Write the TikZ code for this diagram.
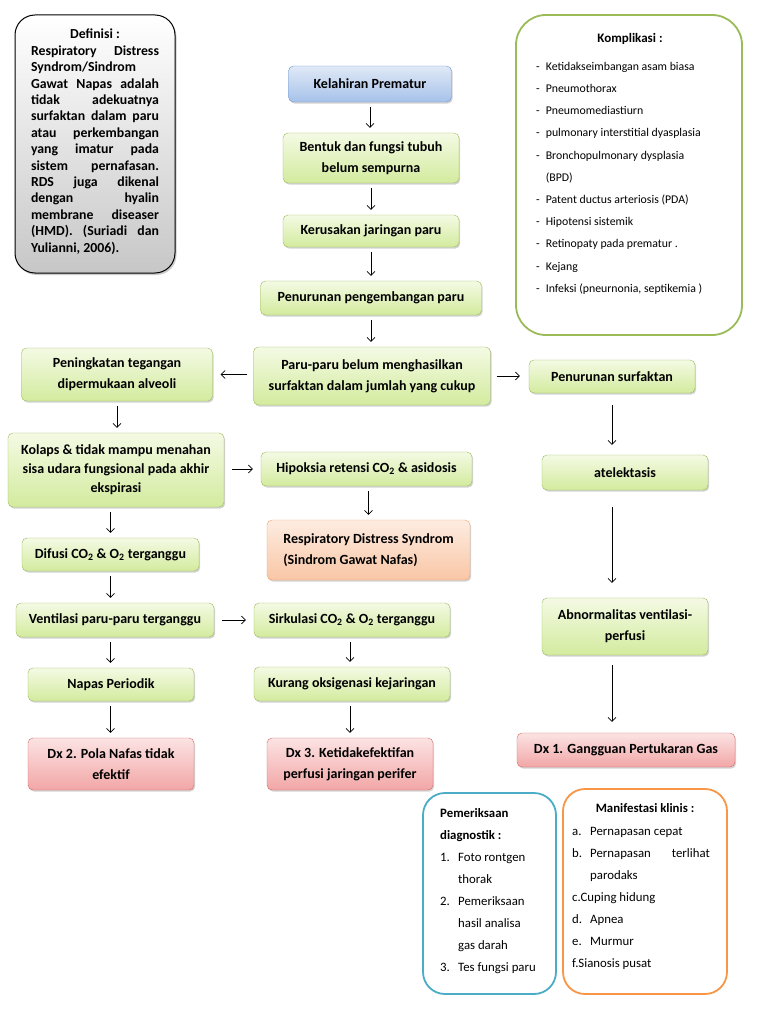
\documentclass[tikz,border=0pt]{standalone}
\usepackage{fontspec}
\setmainfont{Carlito}
\usetikzlibrary{positioning,shadows,arrows.meta}
\definecolor{greenline}{HTML}{9BBB59}
\definecolor{greentop}{HTML}{F4FAE4}
\definecolor{greenbot}{HTML}{D3EB9E}
\definecolor{blueline}{HTML}{6F96CF}
\definecolor{bluetop}{HTML}{E0E9F6}
\definecolor{bluebot}{HTML}{A6C2EA}
\definecolor{peachline}{HTML}{F2A36F}
\definecolor{peachtop}{HTML}{FDECE1}
\definecolor{peachbot}{HTML}{F9C6A5}
\definecolor{pinkline}{HTML}{D26B68}
\definecolor{pinktop}{HTML}{FCE3E3}
\definecolor{pinkbot}{HTML}{F2A6A6}
\definecolor{diagline}{HTML}{4BACC6}
\definecolor{manifline}{HTML}{F79646}
\begin{document}
\begin{tikzpicture}[x=1pt,y=-1pt,
  flow/.style={draw=greenline, rounded corners=5pt, top color=greentop, bottom color=greenbot,
    drop shadow={shadow xshift=1.2pt,shadow yshift=-1.6pt,opacity=0.35},
    font=\bfseries\fontsize{14}{21}\selectfont, align=center, inner sep=2pt},
  startbox/.style={flow, draw=blueline, top color=bluetop, bottom color=bluebot},
  rdsbox/.style={flow, draw=peachline, top color=peachtop, bottom color=peachbot},
  dxbox/.style={flow, draw=pinkline, top color=pinktop, bottom color=pinkbot},
  notebox/.style={draw, rounded corners=#1, line width=1.8pt, fill=white},
  listtext/.style={font=\fontsize{11.8}{22.2}\selectfont, align=left, inner sep=0pt},
  bigList/.style={font=\fontsize{12.8}{22}\selectfont, align=left, inner sep=0pt},
  arr/.style={-{Straight Barb[length=4pt,width=8pt]}, semithick, shorten >=5pt, shorten <=5pt},
]
\useasboundingbox (0,0) rectangle (768,1024);

% definisi
\node[draw, line width=1pt, rounded corners=20pt, top color=white, bottom color=black!22,
  drop shadow={shadow xshift=1.5pt,shadow yshift=-2pt,opacity=0.4},
  minimum width=160pt, minimum height=258pt] (definisi) at (95,144) {};
\node[font=\bfseries\fontsize{13.8}{16.4}\selectfont,
  text width=128pt, align=justify, inner sep=0pt, anchor=north] (defText) at (95,29)
  {\tolerance=10000 \hyphenpenalty=10000 \centering Definisi :\par
   Respiratory Distress\linebreak Syndrom/Sindrom\linebreak Gawat Napas adalah\linebreak
   tidak adekuatnya\linebreak surfaktan dalam paru\linebreak atau perkembangan\linebreak
   yang imatur pada\linebreak sistem pernafasan.\linebreak RDS juga dikenal\linebreak
   dengan hyalin\linebreak membrane diseaser\linebreak (HMD). (Suriadi dan\linebreak
   Yulianni, 2006).};

% komplikasi
\node[notebox=30pt, draw=greenline, minimum width=226pt, minimum height=320pt] (komp) at (629,175) {};
\node[font=\bfseries\fontsize{13}{15}\selectfont] (kompHead) at (630,39) {Komplikasi :};
\node[listtext, anchor=north west] (kompList) at (536,62)
  {-\hspace{6pt}Ketidakseimbangan asam biasa\\
   -\hspace{6pt}Pneumothorax\\
   -\hspace{6pt}Pneumomediastiurn\\
   -\hspace{6pt}pulmonary interstitial dyasplasia\\
   -\hspace{6pt}Bronchopulmonary dysplasia\\
   \phantom{-}\hspace{6pt}(BPD)\\
   -\hspace{6pt}Patent ductus arteriosis (PDA)\\
   -\hspace{6pt}Hipotensi sistemik\\
   -\hspace{6pt}Retinopaty pada prematur .\\
   -\hspace{6pt}Kejang\\
   -\hspace{6pt}Infeksi (pneurnonia, septikemia )};

% alur utama
\node[startbox, minimum width=163pt, minimum height=36pt] (kelahiran) at (370,84) {Kelahiran Prematur};
\node[flow, minimum width=176pt, minimum height=50pt] (bentuk) at (371,158) {Bentuk dan fungsi tubuh\\belum sempurna};
\node[flow, minimum width=176pt, minimum height=32pt] (kerusakan) at (371,231) {Kerusakan jaringan paru};
\node[flow, minimum width=221pt, minimum height=34pt] (penurunanPeng) at (371,298) {Penurunan pengembangan paru};
\node[flow, minimum width=237pt, minimum height=58pt] (paru) at (372,376) {Paru-paru belum menghasilkan\\surfaktan dalam jumlah yang cukup};

% kiri
\node[flow, minimum width=191pt, minimum height=53pt] (peningkatan) at (117,374.5) {Peningkatan tegangan\\dipermukaan alveoli};
\node[flow, minimum width=216pt, minimum height=74pt, font=\bfseries\fontsize{14}{19}\selectfont] (kolaps) at (116,470) {Kolaps \& tidak mampu menahan\\sisa udara fungsional pada akhir\\ekspirasi};
\node[flow, minimum width=177pt, minimum height=33pt] (difusi) at (110.5,554.5) {Difusi CO\textsubscript{2} \& O\textsubscript{2} terganggu};
\node[flow, minimum width=198pt, minimum height=34pt] (ventilasi) at (115,620) {Ventilasi paru-paru terganggu};
\node[flow, minimum width=166pt, minimum height=33pt] (napas) at (111,684.5) {Napas Periodik};
\node[dxbox, minimum width=166pt, minimum height=52pt] (dx2) at (111,764) {Dx 2. Pola Nafas tidak\\efektif};

% tengah
\node[flow, minimum width=211pt, minimum height=34pt] (hipoksia) at (366.5,469) {Hipoksia retensi CO\textsubscript{2} \& asidosis};
\node[rdsbox, minimum width=203pt, minimum height=60pt, align=left] (rds) at (368.5,550) {Respiratory Distress Syndrom\\(Sindrom Gawat Nafas)};
\node[flow, minimum width=196pt, minimum height=34pt] (sirkulasi) at (352,620) {Sirkulasi CO\textsubscript{2} \& O\textsubscript{2} terganggu};
\node[flow, minimum width=196pt, minimum height=34pt] (kurang) at (352,684) {Kurang oksigenasi kejaringan};
\node[dxbox, minimum width=166pt, minimum height=52pt] (dx3) at (350,764) {Dx 3. Ketidakefektifan\\perfusi jaringan perifer};

% kanan
\node[flow, minimum width=166pt, minimum height=33pt] (surfaktan) at (612,376.5) {Penurunan surfaktan};
\node[flow, minimum width=166pt, minimum height=35pt] (atelektasis) at (625,472.5) {atelektasis};
\node[flow, minimum width=166pt, minimum height=57pt] (abnormal) at (625,626.5) {Abnormalitas ventilasi-\\perfusi};
\node[dxbox, minimum width=218pt, minimum height=34pt] (dx1) at (626,750) {Dx 1. Gangguan Pertukaran Gas};

% pemeriksaan & manifestasi
\node[notebox=22pt, draw=diagline, minimum width=133pt, minimum height=201pt] (diag) at (489.5,893.5) {};
\node[bigList, anchor=north west] (diagList) at (440,808)
  {\textbf{Pemeriksaan}\\
   \textbf{diagnostik :}\\
   \makebox[18pt][l]{1.}Foto rontgen\\
   \hspace*{18pt}thorak\\
   \makebox[18pt][l]{2.}Pemeriksaan\\
   \hspace*{18pt}hasil analisa\\
   \hspace*{18pt}gas darah\\
   \makebox[18pt][l]{3.}Tes fungsi paru};
\node[notebox=22pt, draw=manifline, minimum width=164pt, minimum height=205pt] (manif) at (645,891.5) {};
\node[font=\bfseries\fontsize{12.8}{15}\selectfont] (manifHead) at (645,808) {Manifestasi klinis :};
\node[bigList, anchor=north west] (manifList) at (572,827)
  {\makebox[18pt][l]{a.}Pernapasan cepat\\
   \makebox[18pt][l]{b.}Pernapasan\hspace{21pt}terlihat\\
   \hspace*{18pt}parodaks\\
   c.Cuping hidung\\
   \makebox[18pt][l]{d.}Apnea\\
   \makebox[18pt][l]{e.}Murmur\\
   f.Sianosis pusat};

% panah
\draw[arr] (kelahiran) -- (kelahiran.south |- bentuk.north);
\draw[arr] (bentuk.south) -- (kerusakan.north);
\draw[arr] (kerusakan.south) -- (penurunanPeng.north);
\draw[arr] (penurunanPeng.south) -- (penurunanPeng.south |- paru.north);
\draw[arr, shorten <=6pt, shorten >=8pt] (paru.west |- peningkatan) -- (peningkatan.east);
\draw[arr, shorten <=6pt, shorten >=9pt] (paru.east) -- (paru.east -| surfaktan.west);
\draw[arr] (peningkatan.south) -- (peningkatan.south |- kolaps.north);
\draw[arr] (kolaps.south -| difusi) -- (difusi.north);
\draw[arr, shorten <=8pt, shorten >=8pt] (kolaps.east |- hipoksia) -- (hipoksia.west);
\draw[arr] (hipoksia.south -| rds) -- (rds.north);
\draw[arr] (difusi.south) -- (difusi.south |- ventilasi.north);
\draw[arr, shorten <=8pt, shorten >=8pt] (ventilasi.east) -- (ventilasi.east -| sirkulasi.west);
\draw[arr] (ventilasi.south -| difusi) -- (napas.north -| difusi);
\draw[arr] (napas.south -| difusi) -- (dx2.north -| difusi);
\draw[arr] (sirkulasi.south -| dx3) -- (kurang.north -| dx3);
\draw[arr] (kurang.south -| dx3) -- (dx3.north);
\draw[arr, shorten <=12pt, shorten >=10pt] (surfaktan.south) -- (surfaktan.south |- atelektasis.north);
\draw[arr, shorten <=17pt, shorten >=15pt] (atelektasis.south -| surfaktan) -- (abnormal.north -| surfaktan);
\draw[arr, shorten <=10pt, shorten >=11pt] (abnormal.south -| surfaktan) -- (dx1.north -| surfaktan);
\end{tikzpicture}
\end{document}
